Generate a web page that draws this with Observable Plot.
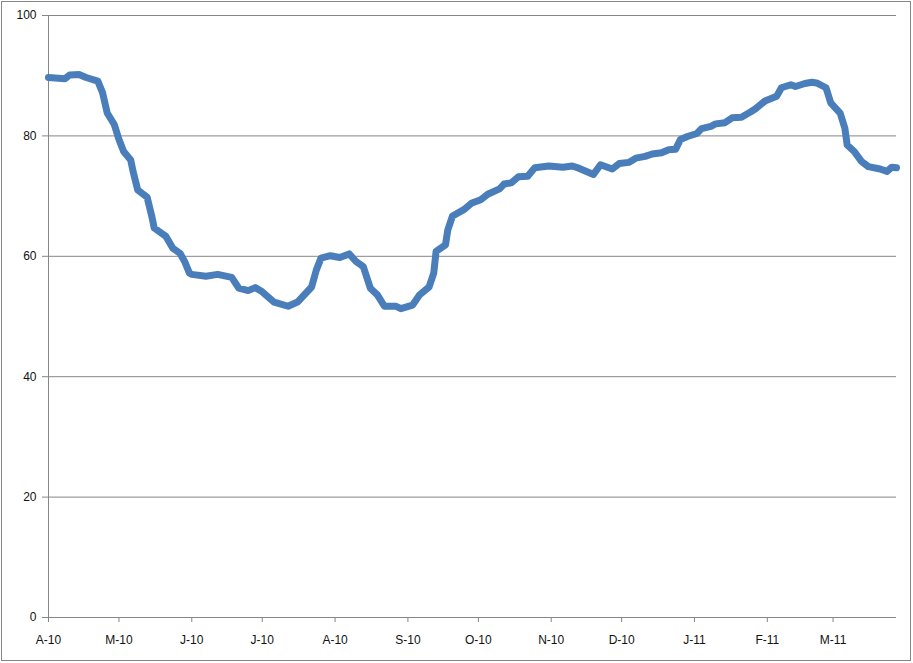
<!DOCTYPE html>
<html>
<head>
<meta charset="utf-8">
<script src="https://cdn.jsdelivr.net/npm/d3@7"></script>
<script src="https://cdn.jsdelivr.net/npm/@observablehq/plot@0.6"></script>
<style>
  html, body { margin: 0; padding: 0; background: #fff; }
  #chart { width: 913px; height: 663px; }
</style>
</head>
<body>
<div id="chart"></div>
<script>
const dates = [
  "2010-04-01","2010-04-08","2010-04-10","2010-04-14","2010-04-17","2010-04-22","2010-04-24","2010-04-26","2010-04-29",
  "2010-05-01","2010-05-03","2010-05-06","2010-05-07","2010-05-09","2010-05-13","2010-05-15","2010-05-16","2010-05-21",
  "2010-05-24","2010-05-27","2010-05-29","2010-05-31","2010-06-01","2010-06-07","2010-06-12","2010-06-18","2010-06-21",
  "2010-06-25","2010-06-28","2010-07-01","2010-07-06","2010-07-12","2010-07-16","2010-07-22","2010-07-24","2010-07-26",
  "2010-07-30","2010-08-03","2010-08-07","2010-08-10","2010-08-13","2010-08-16","2010-08-19","2010-08-22","2010-08-27",
  "2010-08-29","2010-09-03","2010-09-06","2010-09-10","2010-09-12","2010-09-13","2010-09-17","2010-09-18","2010-09-20",
  "2010-09-25","2010-09-28","2010-10-02","2010-10-05","2010-10-10","2010-10-12","2010-10-15","2010-10-18","2010-10-22",
  "2010-10-25","2010-10-31","2010-11-06","2010-11-10","2010-11-13","2010-11-19","2010-11-22","2010-11-27","2010-11-30",
  "2010-12-04","2010-12-07","2010-12-11","2010-12-14","2010-12-18","2010-12-21","2010-12-24","2010-12-26","2010-12-29",
  "2011-01-02","2011-01-04","2011-01-08","2011-01-10","2011-01-14","2011-01-17","2011-01-21","2011-01-25","2011-01-27",
  "2011-01-31","2011-02-05","2011-02-07","2011-02-11","2011-02-13","2011-02-17","2011-02-20","2011-02-22","2011-02-26",
  "2011-02-28","2011-03-04","2011-03-06","2011-03-07","2011-03-10","2011-03-13","2011-03-16","2011-03-21","2011-03-24",
  "2011-03-26","2011-03-28"
];
const values = [
  89.7,89.5,90.1,90.2,89.7,89.1,87.2,83.8,81.9,
  79.4,77.4,76.0,74.1,71.0,69.8,66.6,64.7,63.3,
  61.3,60.5,59.1,57.2,57.0,56.7,57.0,56.5,54.7,
  54.3,54.8,54.1,52.4,51.7,52.4,54.9,57.7,59.7,
  60.1,59.8,60.4,59.1,58.3,54.7,53.6,51.7,51.7,
  51.3,51.9,53.6,54.9,57.2,60.8,61.9,64.4,66.7,
  67.8,68.8,69.4,70.3,71.2,72.0,72.2,73.2,73.3,
  74.7,75.0,74.8,75.0,74.6,73.6,75.2,74.5,75.4,
  75.6,76.3,76.6,77.0,77.2,77.7,77.8,79.4,79.9,
  80.4,81.2,81.6,82.0,82.2,83.0,83.1,84.0,84.5,
  85.8,86.6,88.0,88.5,88.2,88.7,88.9,88.8,88.0,
  85.5,83.8,81.3,78.5,77.4,75.8,74.9,74.5,74.1,
  74.8,74.7
];
const xTickDates = ["2010-04-01","2010-05-01","2010-06-01","2010-07-01","2010-08-01","2010-09-01",
  "2010-10-01","2010-11-01","2010-12-01","2011-01-01","2011-02-01","2011-03-01"];
const xTickLabels = ["A-10","M-10","J-10","J-10","A-10","S-10","O-10","N-10","D-10","J-11","F-11","M-11"];
const yTicks = [0, 20, 40, 60, 80, 100];

const parse = d3.utcParse("%Y-%m-%d");
const data = dates.map((d, i) => ({date: parse(d), value: values[i]}));
const tickDates = xTickDates.map(parse);
const labelOf = new Map(tickDates.map((d, i) => [+d, xTickLabels[i]]));

const gray = "#868686";
const chart = Plot.plot({
  width: 913,
  height: 663,
  marginLeft: 48,
  marginRight: 17,
  marginTop: 15,
  marginBottom: 46,
  style: {fontFamily: "'Liberation Sans', Arial, sans-serif", fontSize: "12px", color: "#111", background: "#fff"},
  x: {type: "utc", domain: [parse(dates[0]), parse(dates[dates.length - 1])]},
  y: {domain: [0, 100]},
  marks: [
    Plot.gridY(yTicks.filter(t => t > 0), {stroke: gray, strokeOpacity: 1, strokeWidth: 1}),
    Plot.ruleY([0], {stroke: gray, strokeWidth: 1}),
    Plot.ruleX([parse(dates[0])], {stroke: gray, strokeWidth: 1}),
    Plot.axisY(yTicks, {tickSize: 6, tickPadding: 6, stroke: gray, label: null, fill: "#111"}),
    Plot.axisX(tickDates, {tickSize: 5, tickPadding: 13, stroke: gray, label: null, fill: "#111",
      tickFormat: d => labelOf.get(+d)}),
    Plot.line(data, {x: "date", y: "value", stroke: "#4a7ebb", strokeWidth: 7,
      strokeLinejoin: "round", strokeLinecap: "round"})
  ]
});

// outer chart border
d3.select(chart).append("rect")
  .attr("x", 1.5).attr("y", 1.5).attr("width", 909).attr("height", 659)
  .attr("fill", "none").attr("stroke", gray).attr("stroke-width", 1);

document.getElementById("chart").appendChild(chart);
</script>
</body>
</html>
